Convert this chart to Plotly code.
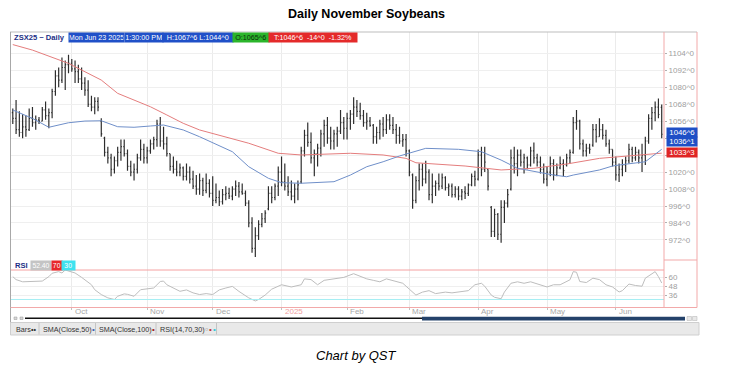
import pandas as pd
import plotly.graph_objects as go

W, H = 731, 380
def X(px): return px / W
def Y(py): return 1 - py / H

# ---------------- data ----------------
holidays = ["2024-11-28", "2024-12-25", "2025-01-01", "2025-01-09", "2025-01-20",
            "2025-02-17", "2025-04-18", "2025-05-26", "2025-06-19"]
all_days = pd.bdate_range("2024-09-05", "2025-06-23")
dates = [d.strftime("%Y-%m-%d") for d in all_days if d.strftime("%Y-%m-%d") not in holidays]

opens = [1062,1058,1050,1048,1052,1050,1058,1055,1057,1056,1064,1060,1062,1077,1088,1085,1094,1096,1097,1093,
         1091,1086,1083,1078,1068,1066,1070,1056,1044,1034,1030,1022,1028,1034,1038,1033,1024,1020,1022,1030,
         1036,1030,1035,1040,1043,1054,1042,1040,1033,1024,1022,1020,1023,1017,1020,1015,1010,1008,1014,1007,
         1012,1005,1000,1002,999,1004,1005,1003,1008,1010,1006,1005,998,984,966,975,983,987,994,1005,
         1002,1010,1020,1013,1010,1006,1003,1008,1013,1035,1046,1041,1030,1033,1037,1047,1053,1044,1042,1047,
         1049,1055,1051,1058,1061,1066,1063,1060,1055,1056,1053,1045,1048,1054,1050,1057,1053,1050,1046,1042,
         1043,1035,1018,1000,1014,1022,1015,1020,1004,1010,1012,1010,1016,1009,1010,1004,1008,1003,1006,1005,
         1011,1017,1015,1032,1022,1022,995,978,990,976,995,998,1008,1030,1026,1032,1027,1030,1025,1035,
         1030,1027,1022,1015,1020,1026,1018,1023,1026,1025,1030,1034,1055,1056,1040,1035,1037,1039,1050,1045,
         1050,1046,1040,1036,1027,1018,1022,1025,1028,1036,1030,1034,1030,1032,1042,1058,1062,1066,1065.75]
highs = [1065,1071,1063,1061,1060,1065,1066,1060,1059,1066,1070,1065,1079,1092,1094,1101,1099,1103,1100,1099,
         1096,1094,1087,1085,1074,1073,1073,1058,1045,1038,1033,1031,1038,1043,1043,1036,1028,1026,1033,1043,
         1040,1038,1043,1045,1057,1059,1052,1045,1033,1031,1028,1026,1024,1026,1024,1021,1018,1019,1016,1019,
         1015,1017,1012,1007,1008,1010,1009,1010,1014,1013,1012,1007,1000,988,981,986,991,993,1010,1010,
         1012,1024,1031,1026,1017,1014,1012,1014,1038,1050,1055,1048,1036,1040,1050,1057,1059,1052,1050,1052,
         1064,1059,1062,1064,1073,1071,1069,1064,1062,1059,1054,1052,1057,1059,1061,1061,1059,1054,1052,1047,
         1047,1036,1019,1017,1026,1026,1028,1022,1019,1014,1019,1019,1017,1012,1012,1010,1010,1008,1010,1012,
         1019,1021,1036,1038,1038,1022,996,994,991,1000,1000,1008,1036,1038,1036,1036,1033,1031,1038,1041,
         1033,1031,1026,1024,1031,1029,1026,1031,1029,1033,1036,1059,1064,1057,1043,1040,1040,1054,1054,1058,
         1054,1050,1043,1036,1031,1026,1029,1031,1040,1038,1038,1036,1040,1045,1061,1066,1070,1072,1067.75]
lows = [1054,1047,1045,1044,1045,1049,1052,1050,1054,1056,1057,1051,1058,1074,1080,1083,1078,1090,1091,1083,
        1083,1078,1074,1066,1063,1061,1063,1045,1031,1026,1017,1019,1024,1028,1031,1021,1017,1014,1019,1028,
        1026,1026,1033,1036,1038,1038,1036,1031,1021,1019,1017,1017,1014,1014,1012,1008,1004,1004,1003,1005,
        1002,996,998,996,997,1000,1001,1000,1003,1002,1004,996,981,963,960,972,981,984,993,998,
        1000,1003,1010,1007,1003,1000,998,1000,1012,1031,1038,1026,1017,1024,1031,1038,1040,1036,1036,1038,
        1047,1043,1043,1050,1054,1059,1057,1052,1050,1052,1040,1040,1043,1045,1047,1050,1047,1040,1040,1038,
        1031,1017,994,998,1007,1010,1012,1000,998,1003,1007,1008,1007,1003,1002,1002,1000,1000,1001,1003,
        1010,1010,1014,1017,1020,1007,974,974,972,970,984,995,1007,1019,1017,1024,1019,1022,1024,1026,
        1024,1019,1012,1010,1017,1014,1017,1022,1017,1024,1026,1033,1050,1036,1031,1031,1033,1038,1041,1045,
        1043,1038,1033,1024,1014,1013,1017,1020,1026,1027,1028,1026,1020,1025,1040,1050,1056,1058,1044.0]
closes = [1058,1050,1048,1052,1050,1058,1055,1057,1056,1064,1060,1062,1077,1088,1085,1094,1096,1097,1093,1091,
          1086,1083,1078,1068,1066,1070,1066,1047,1034,1030,1022,1028,1034,1038,1033,1024,1020,1022,1030,1036,
          1030,1035,1040,1043,1054,1042,1040,1033,1024,1022,1020,1023,1017,1020,1015,1010,1008,1014,1007,1012,
          1005,1000,1002,999,1004,1005,1003,1008,1010,1006,1005,998,984,966,975,983,987,991,1005,1002,
          1010,1020,1013,1010,1006,1003,1008,1011,1035,1046,1041,1030,1033,1037,1047,1053,1044,1042,1047,1049,
          1055,1051,1058,1061,1066,1063,1060,1055,1056,1053,1045,1048,1054,1050,1057,1053,1050,1046,1042,1043,
          1035,1020,1000,1014,1022,1015,1020,1004,1010,1012,1010,1016,1009,1010,1004,1008,1003,1006,1005,1011,
          1017,1015,1032,1022,1027,1010,978,990,976,995,998,1004,1030,1026,1032,1027,1030,1025,1035,1030,
          1027,1022,1015,1020,1026,1018,1023,1026,1021,1030,1034,1055,1056,1040,1035,1037,1036,1050,1045,1050,
          1046,1040,1036,1027,1018,1022,1025,1028,1036,1030,1034,1030,1032,1042,1058,1062,1066,1060.75,1046.75]

sma50_idx = [0, 6, 11, 17, 22, 27, 32, 37, 42, 46, 52, 57, 67, 72, 78, 82, 88, 98, 103, 108, 113, 118,
             126, 136, 143, 149, 154, 159, 165, 169, 171, 179, 183, 185, 193, 198]
sma50_val = [1063.9, 1058.0, 1051.7, 1054.9, 1056.1, 1056.3, 1052.1, 1051.7, 1052.6, 1053.3, 1049.8, 1045.0,
             1034.4, 1023.8, 1015.6, 1012.5, 1012.1, 1013.2, 1017.9, 1023.8, 1027.3, 1031.4, 1036.8, 1036.1,
             1034.4, 1028.5, 1022.7, 1020.3, 1017.9, 1016.7, 1017.9, 1021.5, 1024.3, 1025.0, 1027.3, 1036.125]
sma100_idx = [0, 6, 17, 22, 27, 32, 37, 42, 47, 52, 57, 67, 72, 81, 88, 103, 113, 120, 123, 138, 149,
              159, 169, 179, 185, 198]
sma100_val = [1110.2, 1106.3, 1096.9, 1091.0, 1085.1, 1075.7, 1071.0, 1066.2, 1060.4, 1054.5, 1049.8,
              1043.9, 1040.4, 1033.3, 1032.1, 1033.3, 1032.1, 1029.7, 1026.6, 1024.3, 1021.5, 1022.7,
              1025.7, 1029.7, 1030.9, 1033.375]

rsi_idx = [0, 1, 3, 6, 9, 11, 12, 14, 15, 16, 18, 19, 21, 22, 24, 25, 27, 29, 31, 32, 34, 35, 37, 39,
           41, 43, 45, 46, 47, 49, 51, 53, 55, 57, 59, 61, 63, 65, 67, 69, 72, 74, 75, 77, 79, 82, 85,
           88, 89, 91, 93, 95, 98, 101, 104, 105, 108, 110, 112, 114, 117, 119, 121, 123, 125, 127, 129,
           132, 134, 136, 139, 141, 143, 144, 146, 147, 149, 150, 152, 154, 156, 158, 161, 163, 165, 167,
           170, 171, 172, 173, 175, 177, 179, 181, 183, 185, 186, 188, 190, 192, 193, 195, 196, 197, 198]
rsi_val = [61, 57, 54, 54.4, 55, 61, 65.6, 67.8, 66, 70, 67, 66, 60, 56.7, 50, 43.3, 36.7, 32.2, 30,
           34.4, 37.6, 37, 34.4, 43.3, 44.7, 45.6, 54.4, 55, 50, 45.6, 41.1, 43, 39, 36.7, 38, 36.7, 43,
           45.6, 47.8, 41, 32.2, 28, 30, 36, 44, 50, 47, 50, 58, 57, 50, 56, 58, 60, 65, 63, 58, 56, 54,
           58, 55, 52, 44, 36, 40, 42, 38, 40, 39, 40, 42, 50, 52, 48, 36, 33, 31, 40, 52, 54, 52, 54, 50,
           47, 50, 50, 56.7, 67.8, 67, 54.4, 53, 58.9, 57, 50, 47, 40.2, 42, 51, 49, 48, 58.9, 65.6, 67.8,
           61, 52.40]

price_ticks = [972, 984, 996, 1008, 1020, 1032, 1044, 1056, 1068, 1080, 1092, 1104]
hidden_price_labels = [1032, 1044]   # covered by the value boxes in the original
rsi_ticks = [36, 48, 60]
rsi_upper, rsi_lower = 70, 30
month_labels = ["Oct", "Nov", "Dec", "2025", "Feb", "Mar", "Apr", "May", "Jun"]
symbol = "ZSX25 ~ Daily"
bar_time = "1:30:00 PM"

# ---------------- helpers ----------------
def q8(p):
    w = int(p)
    return f"{w}^{int(round((p - w) * 8))}"

month_starts = []
prev = dates[0][:7]
for d in dates[1:]:
    if d[:7] != prev:
        month_starts.append(d)
        prev = d[:7]

FONT = "Liberation Sans, Arial, sans-serif"
pink = "#f2a9a9"

fig = go.Figure()
fig.add_trace(go.Ohlc(x=dates, open=opens, high=highs, low=lows, close=closes,
                      increasing_line_color="#2e2e2e", decreasing_line_color="#2e2e2e",
                      line_width=1.2, tickwidth=0.3, xaxis="x", yaxis="y",
                      showlegend=False, hoverinfo="skip"))
fig.add_trace(go.Scatter(x=[dates[i] for i in sma100_idx], y=sma100_val, mode="lines",
                         line=dict(color="#e47d7d", width=1), xaxis="x", yaxis="y",
                         showlegend=False, hoverinfo="skip"))
fig.add_trace(go.Scatter(x=[dates[i] for i in sma50_idx], y=sma50_val, mode="lines",
                         line=dict(color="#6f8fc9", width=1), xaxis="x", yaxis="y",
                         showlegend=False, hoverinfo="skip"))
fig.add_trace(go.Scatter(x=[dates[i] for i in rsi_idx], y=rsi_val, mode="lines",
                         line=dict(color="#bdbdbd", width=1), xaxis="x2", yaxis="y2",
                         showlegend=False, hoverinfo="skip"))

xr = [-0.7, 198.7]
fig.update_layout(
    width=W, height=H, margin=dict(l=0, r=0, t=0, b=0),
    paper_bgcolor="white", plot_bgcolor="white", hovermode=False,
    font=dict(family=FONT, size=8, color="#333"),
    xaxis=dict(domain=[X(10.5), X(664)], type="category", range=xr, anchor="y",
               tickvals=month_starts, showticklabels=False, showgrid=True,
               gridcolor="#ebebeb", ticks="", zeroline=False, showline=False,
               rangeslider=dict(visible=False), fixedrange=True),
    yaxis=dict(domain=[Y(260), Y(32)], range=[957.8, 1119.1], side="right", anchor="x",
               tickvals=price_ticks,
               ticktext=["" if v in hidden_price_labels else f"{v}^0" for v in price_ticks],
               tickfont=dict(size=8, color="#a0a0a0", family=FONT), showgrid=True,
               gridcolor="#efefef", ticks="outside", ticklen=2, tickcolor="#b0b0b0",
               zeroline=False, showline=False),
    xaxis2=dict(domain=[X(10.5), X(664)], type="category", range=xr, anchor="y2",
                matches="x", tickvals=month_starts, showticklabels=False, showgrid=True,
                gridcolor="#ebebeb", ticks="outside", ticklen=2, tickcolor="#c0c0c0",
                zeroline=False, showline=False),
    yaxis2=dict(domain=[Y(307.3), Y(260)], range=[19.4, 83.6], side="right", anchor="x2",
                tickvals=rsi_ticks, tickfont=dict(size=8, color="#a0a0a0", family=FONT),
                showgrid=True, gridcolor="#efefef", ticks="outside", ticklen=2,
                tickcolor="#b0b0b0", zeroline=False, showline=False),
)

shapes = []
def line(x0, y0, x1, y1, color, width=1):
    shapes.append(dict(type="line", xref="paper", yref="paper", x0=X(x0), x1=X(x1),
                       y0=Y(y0), y1=Y(y1), line=dict(color=color, width=width)))
def rect(x0, y0, x1, y1, fill, color=None, width=0):
    shapes.append(dict(type="rect", xref="paper", yref="paper", x0=X(x0), x1=X(x1),
                       y0=Y(y0), y1=Y(y1), fillcolor=fill,
                       line=dict(color=color or fill, width=width), layer="above"))

# RSI level lines
for lvl, col in [(rsi_upper, "#f5a3a3"), (rsi_lower, "#a6eef3")]:
    shapes.append(dict(type="line", xref="paper", yref="y2", x0=X(10.5), x1=X(664),
                       y0=lvl, y1=lvl, line=dict(color=col, width=1)))
# frame
line(10, 32, 697, 32, "#bdbdbd")
line(10.5, 32, 10.5, 335, "#a8a8a8")
line(664, 32, 664, 307.5, pink)
line(697, 32, 697, 307.5, pink)
line(664, 260, 697, 260, pink)
line(10.5, 307.5, 697, 307.5, pink)
# scrollbar
line(25, 318.2, 422, 318.2, "#111111", 1.5)
rect(422, 316.8, 685, 320.6, "#24426a")
rect(14, 317, 17, 319.5, "#d8d8d8", "#999", 0.5)
rect(20, 317, 23, 319.5, "#d8d8d8", "#999", 0.5)
rect(687, 316.5, 691.5, 320.5, "#e8e8e8", "#b0b0b0", 0.5)
rect(692.5, 316.5, 697, 320.5, "#e8e8e8", "#b0b0b0", 0.5)
# legend bar
rect(10.5, 322.5, 699, 335, "#e9e9e9", "#cfcfcf", 1)
for sx in [39, 95.5, 156, 216.5]:
    line(sx, 323, sx, 334.5, "#c4c4c4")
fig.update_layout(shapes=shapes)

ann = []
def text(x, y, s, size=8, color="#333", anchor="left", **kw):
    ann.append(dict(x=X(x), y=Y(y), xref="paper", yref="paper", text=s, showarrow=False,
                    xanchor=anchor, yanchor="middle", font=dict(size=size, color=color,
                    family=kw.pop("family", FONT)), **kw))
def box(x, y, w, s, bg, color="white", size=7.2, h=8):
    ann.append(dict(x=X(x), y=Y(y), xref="paper", yref="paper", text=s, showarrow=False,
                    xanchor="left", yanchor="middle", width=w, height=h, align="center",
                    bgcolor=bg, borderpad=0.5, font=dict(size=size, color=color, family=FONT)))

# title and caption
text(366, 14, "<b>Daily November Soybeans</b>", size=12.5, color="#000", anchor="center")
text(356, 355, "<i>Chart by QST</i>", size=13, color="#000", anchor="center")

# header
last = len(dates) - 1
chg = closes[last] - closes[last - 1]
pct = chg / closes[last - 1] * 100
day_txt = pd.Timestamp(dates[last]).strftime("%a %b %d %Y")
text(12, 37.5, f"<b>{symbol}</b>", size=7.6, color="#1c2f86")
box(68, 37.5, 54, day_txt, "#2050c8")
box(124, 37.5, 36.5, bar_time, "#2050c8")
box(162, 37.5, 68.5, f"H:{q8(highs[last])} L:{q8(lows[last])}", "#2050c8")
box(232, 37.5, 34.5, f"O:{q8(opens[last])}", "#2bb52b", color="#0c2c0c")
box(267.5, 37.5, 87, f"T:{q8(closes[last])}  {'-' if chg < 0 else ''}{q8(abs(chg))}  {pct:.2f}%",
    "#e42a2a")

# right side value boxes
box(665.5, 132.4, 29, q8(closes[last]), "#1f4fc6", size=7.8)
box(665.5, 141.3, 29, q8(sma50_val[-1]), "#1f4fc6", size=7.8)
box(665.5, 152.4, 29, q8(sma100_val[-1]), "#e02424", size=7.8)

# RSI header
text(12.5, 265.8, "<b>RSI</b>", size=7.6, color="#1c2f86")
box(30, 265.8, 19, f"{rsi_val[-1]:.2f}", "#c4c4c4", size=6.8)
box(51, 265.8, 8.5, str(rsi_upper), "#e8282a", size=6.8)
box(60.5, 265.8, 11.5, str(rsi_lower), "#3fe2ef", size=6.8)

# month labels
for d, lab in zip(month_starts, month_labels):
    ann.append(dict(x=d, y=Y(311.8), xref="x2", yref="paper", text=lab, showarrow=False,
                    xanchor="left", yanchor="middle", xshift=1,
                    font=dict(size=8, color="#f0a0a0" if lab.isdigit() else "#a8a8a8",
                              family=FONT)))

# legend texts
LF = 7.2
text(13.5, 329, "Bars", size=LF, color="#333")
text(29, 329, "<b>••</b>", size=LF, color="#333")
text(40.5, 329, "SMA(Close,50)", size=LF, color="#333")
text(89.5, 329, "•", size=8, color="#3d5fb0")
text(97, 329, "SMA(Close,100)", size=LF, color="#333")
text(150, 329, "•", size=8, color="#a02020")
text(157.5, 329, "RSI(14,70,30)", size=LF, color="#333")
text(203, 329, "○", size=5.5, color="#888")
text(207.5, 329, "•", size=8, color="#c03030")
text(211.5, 329, "•", size=8, color="#30c8d8")

fig.update_layout(annotations=ann)
fig.write_html("out.html", config={"displayModeBar": False},
               post_script="document.body.style.margin='0';")
